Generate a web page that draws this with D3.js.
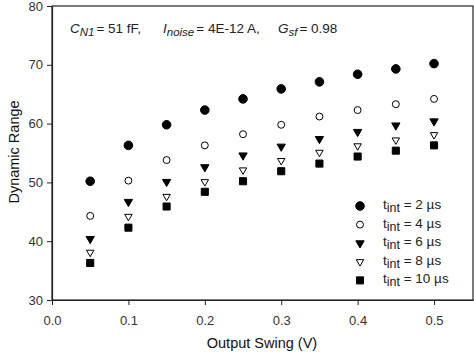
<!DOCTYPE html>
<html><head><meta charset="utf-8">
<script src="https://cdn.jsdelivr.net/npm/d3@7"></script>
<style>body{margin:0;background:#fff}svg{display:block}text{font-family:"Liberation Sans",Arial,sans-serif}</style>
</head><body><svg id="c" width="474" height="353"></svg>
<script>
const xs = [0.05,0.1,0.15,0.2,0.25,0.3,0.35,0.4,0.45,0.5];
const dr2  = [50.2,56.3,59.8,62.3,64.2,65.9,67.1,68.4,69.3,70.2];
const dr4  = [44.3,50.3,53.8,56.3,58.2,59.8,61.2,62.3,63.3,64.2];
const dr6  = [40.4,46.7,50.1,52.6,54.6,56.1,57.4,58.6,59.7,60.4];
const dr8  = [38.1,44.2,47.6,50.1,52.1,53.7,55.1,56.2,57.2,58.1];
const dr10 = [36.3,42.3,45.9,48.4,50.2,51.9,53.2,54.4,55.4,56.3];
const seriesNames = ["2","4","6","8","10"];
const xTicks = [0,0.1,0.2,0.3,0.4,0.5];
const yTicks = [30,40,50,60,70,80];

const svg = d3.select("#c");
const L=52,R=473,T=6,B=300;
const x = d3.scaleLinear().domain([0,0.551]).range([L,R]);
const y = d3.scaleLinear().domain([30,80]).range([B,T]);

svg.append("rect").attr("x",L).attr("y",T).attr("width",R-L).attr("height",B-T)
 .attr("fill","none").attr("stroke","#222").attr("stroke-width",1.2);

const xa = svg.append("g").attr("transform",`translate(0,${B})`)
 .call(d3.axisBottom(x).tickValues(xTicks).tickFormat(d3.format(".1f")).tickSize(5).tickSizeOuter(0));
const ya = svg.append("g").attr("transform",`translate(${L},0)`)
 .call(d3.axisLeft(y).tickValues(yTicks).tickSize(5).tickSizeOuter(0));
[xa,ya].forEach(a=>{a.select(".domain").attr("stroke","#222").attr("stroke-width",1.2);
 a.selectAll(".tick line").attr("stroke","#222");
 a.selectAll("text").attr("font-size",13).attr("fill","#333").attr("font-family","Liberation Sans, Arial, sans-serif");});
xa.selectAll("text").attr("dy","1.3em");
ya.selectAll("text").attr("dx","-1px");

svg.append("text").attr("x",262).attr("y",348).attr("text-anchor","middle").attr("font-size",14.5).attr("fill","#111").text("Output Swing (V)");
svg.append("text").attr("transform","translate(19,152) rotate(-90)").attr("text-anchor","middle").attr("font-size",14.5).attr("fill","#111").text("Dynamic Range");

function ann(xp, main, sub, rest){
 const t = svg.append("text").attr("x",xp).attr("y",33).attr("font-size",13.5).attr("fill","#222");
 t.append("tspan").attr("font-style","italic").text(main);
 t.append("tspan").attr("font-style","italic").attr("font-size",11.5).attr("dy",3).text(sub);
 t.append("tspan").attr("dy",-3).attr("dx",2).text(rest);
}
ann(70,"C","N1","= 51 fF,");
ann(163,"I","noise","= 4E-12 A,");
ann(278,"G","sf","= 0.98");

const data = [dr2,dr4,dr6,dr8,dr10];
const sym = [
 {type:d3.symbolCircle,size:58,fill:"#000",stroke:"#000"},
 {type:d3.symbolCircle,size:38,fill:"#fff",stroke:"#000"},
 {type:d3.symbolTriangle,size:30,fill:"#000",stroke:"#000",rot:180},
 {type:d3.symbolTriangle,size:24,fill:"#fff",stroke:"#000",rot:180},
 {type:d3.symbolSquare,size:50,fill:"#000",stroke:"#000"}
];
data.forEach((vals,i)=>{
 const s=sym[i];
 svg.append("g").selectAll("path").data(vals).join("path")
  .attr("d",d3.symbol().type(s.type).size(s.size))
  .attr("transform",(d,j)=>`translate(${x(xs[j])},${y(d)})${s.rot?" rotate(180)":""}`)
  .attr("fill",s.fill).attr("stroke",s.stroke).attr("stroke-width",1);
});

const lg = svg.append("g");
seriesNames.forEach((n,i)=>{
 const yy = 206+i*18.6;
 const s=sym[i];
 lg.append("path").attr("d",d3.symbol().type(s.type).size(s.size))
  .attr("transform",`translate(360,${yy})${s.rot?" rotate(180)":""}`)
  .attr("fill",s.fill).attr("stroke",s.stroke);
 const t = lg.append("text").attr("x",383).attr("y",yy+3).attr("font-size",13.5).attr("fill","#222");
 t.append("tspan").text("t");
 t.append("tspan").attr("font-size",12.5).attr("dy",3).text("int");
 t.append("tspan").attr("dy",-3).text(` = ${n} \u00b5s`);
});
</script></body></html>
